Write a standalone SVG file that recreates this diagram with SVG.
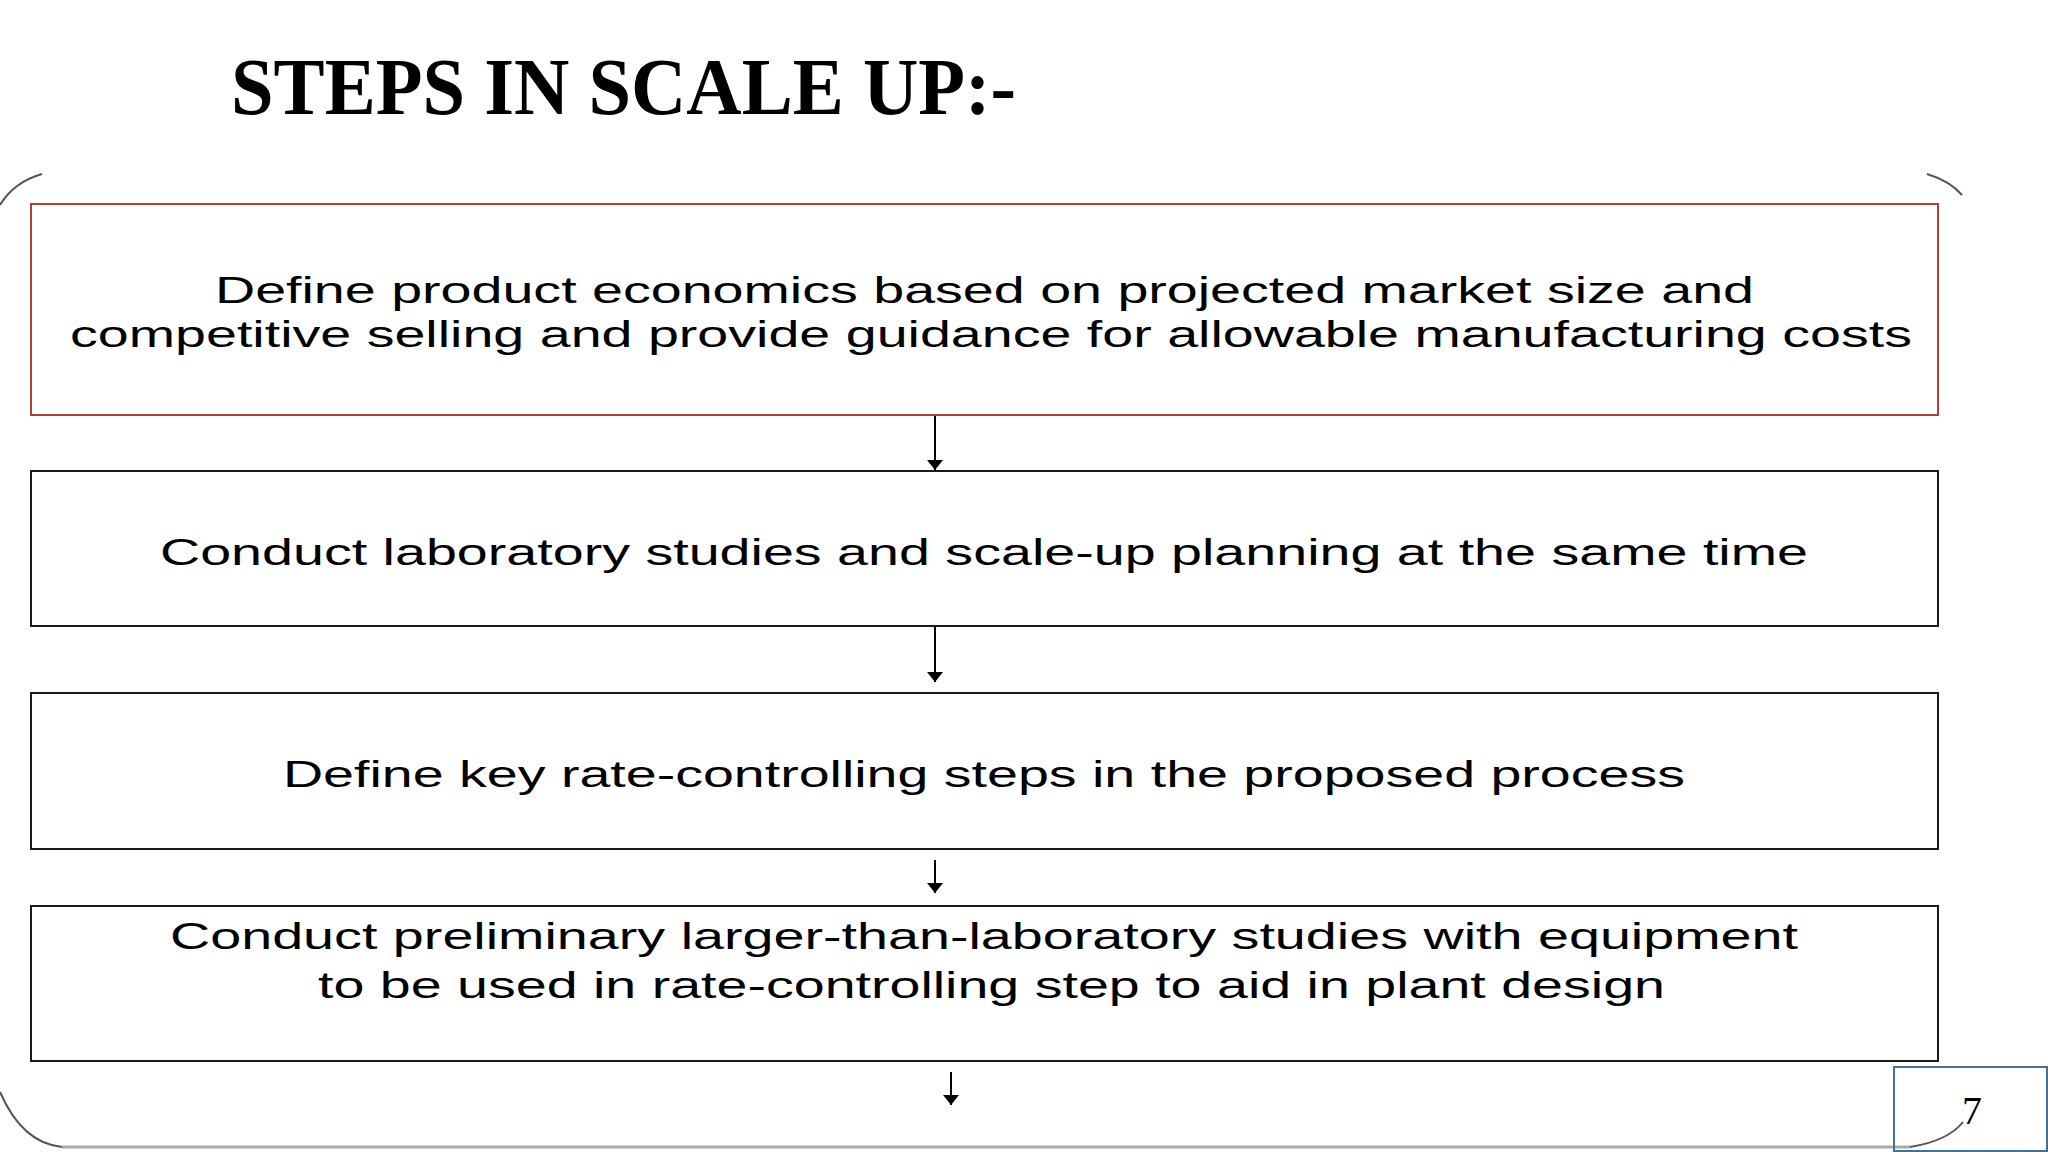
<svg xmlns="http://www.w3.org/2000/svg" width="2048" height="1152" viewBox="0 0 2048 1152">
  <defs>
    <marker id="arrow" viewBox="0 0 10 16" refX="10" refY="8" markerWidth="10" markerHeight="16" markerUnits="userSpaceOnUse" orient="auto">
      <path d="M0,0 L10,8 L0,16 Z" fill="#000"/>
    </marker>
    <style>
      .box { fill: #ffffff; stroke: #1a1a1a; stroke-width: 2; }
      .box-red { fill: #ffffff; stroke: #b0413a; stroke-width: 2; }
      .lbl { font-family: "Liberation Sans", Arial, sans-serif; font-size: 37px; fill: #000; }
      .conn { stroke: #000; stroke-width: 2; fill: none; }
      .frame { stroke: #555; stroke-width: 2; fill: none; }
    </style>
  </defs>
  <rect width="2048" height="1152" fill="#ffffff"/>

  <g id="frame">
    <path class="frame" d="M0,205 Q14,182 42,174"/>
    <path class="frame" d="M1927,174 Q1950,181 1962,195"/>
    <path class="frame" d="M0,1092 Q22,1143 62,1147"/>
    <line x1="62" y1="1147" x2="1910" y2="1147" stroke="#aaaaaa" stroke-width="3"/>
    <path class="frame" d="M1910,1147 Q1948,1141 1963,1122"/>
  </g>

  <g id="title">
    <text x="231" y="114" font-family="'Liberation Serif', 'Times New Roman', serif" font-weight="bold" font-size="80" textLength="785" lengthAdjust="spacingAndGlyphs" fill="#000">STEPS IN SCALE UP:-</text>
  </g>

  <g id="node1">
    <rect class="box-red" x="31" y="204" width="1907" height="211"/>
    <text class="lbl" x="215" y="303" textLength="1539" lengthAdjust="spacingAndGlyphs">Define product economics based on projected market size and</text>
    <text class="lbl" x="70" y="347" textLength="1842" lengthAdjust="spacingAndGlyphs">competitive selling and provide guidance for allowable manufacturing costs</text>
  </g>

  <g id="node2">
    <rect class="box" x="31" y="471" width="1907" height="155"/>
    <text class="lbl" x="160" y="565" textLength="1648" lengthAdjust="spacingAndGlyphs">Conduct laboratory studies and scale-up planning at the same time</text>
  </g>

  <g id="node3">
    <rect class="box" x="31" y="693" width="1907" height="156"/>
    <text class="lbl" x="283" y="787" textLength="1402" lengthAdjust="spacingAndGlyphs">Define key rate-controlling steps in the proposed process</text>
  </g>

  <g id="node4">
    <rect class="box" x="31" y="906" width="1907" height="155"/>
    <text class="lbl" x="170" y="949" textLength="1628" lengthAdjust="spacingAndGlyphs">Conduct preliminary larger-than-laboratory studies with equipment</text>
    <text class="lbl" x="318" y="998" textLength="1347" lengthAdjust="spacingAndGlyphs">to be used in rate-controlling step to aid in plant design</text>
  </g>

  <g id="connectors">
    <line class="conn" x1="935" y1="416" x2="935" y2="470" marker-end="url(#arrow)"/>
    <line class="conn" x1="935" y1="627" x2="935" y2="682" marker-end="url(#arrow)"/>
    <line class="conn" x1="935" y1="860" x2="935" y2="893" marker-end="url(#arrow)"/>
    <line class="conn" x1="951" y1="1072" x2="951" y2="1105" marker-end="url(#arrow)"/>
  </g>

  <g id="page-number">
    <rect x="1894" y="1067" width="153" height="84" fill="none" stroke="#41719c" stroke-width="2"/>
    <text x="1962" y="1124" font-family="'Liberation Serif', 'Times New Roman', serif" font-size="40" fill="#000">7</text>
  </g>
</svg>
